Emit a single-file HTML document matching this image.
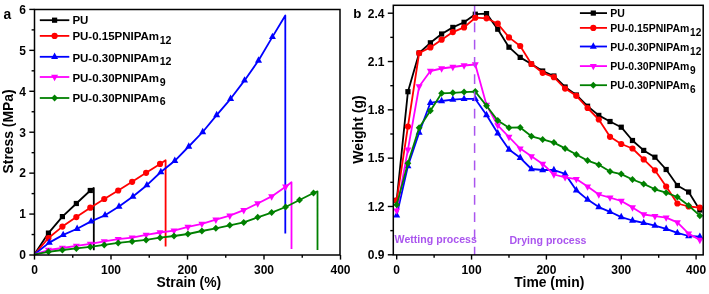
<!DOCTYPE html><html><head><meta charset="utf-8"><style>html,body{margin:0;padding:0;background:#fff;}svg{display:block;will-change:transform;}</style></head><body>
<svg width="709" height="294" viewBox="0 0 709 294" font-family='"Liberation Sans", sans-serif' font-weight="bold">
<rect width="709" height="294" fill="#fff"/>
<polyline points="34.50,254.30 48.45,233.10 62.40,216.60 76.35,203.50 90.30,190.50 93.80,188.00 93.80,250.30" fill="none" stroke="#000000" stroke-width="1.8" stroke-linejoin="round"/>
<rect x="45.85" y="230.50" width="5.20" height="5.20" fill="#000000"/>
<rect x="59.80" y="214.00" width="5.20" height="5.20" fill="#000000"/>
<rect x="73.75" y="200.90" width="5.20" height="5.20" fill="#000000"/>
<rect x="87.70" y="187.90" width="5.20" height="5.20" fill="#000000"/>
<polyline points="34.50,254.30 48.45,238.00 62.40,226.60 76.35,217.10 90.30,207.70 104.25,199.00 118.20,190.50 132.15,181.80 146.10,172.80 160.05,163.90 165.60,160.20 165.60,246.40" fill="none" stroke="#ff0000" stroke-width="1.8" stroke-linejoin="round"/>
<circle cx="48.45" cy="238.00" r="3.10" fill="#ff0000"/>
<circle cx="62.40" cy="226.60" r="3.10" fill="#ff0000"/>
<circle cx="76.35" cy="217.10" r="3.10" fill="#ff0000"/>
<circle cx="90.30" cy="207.70" r="3.10" fill="#ff0000"/>
<circle cx="104.25" cy="199.00" r="3.10" fill="#ff0000"/>
<circle cx="118.20" cy="190.50" r="3.10" fill="#ff0000"/>
<circle cx="132.15" cy="181.80" r="3.10" fill="#ff0000"/>
<circle cx="146.10" cy="172.80" r="3.10" fill="#ff0000"/>
<circle cx="160.05" cy="163.90" r="3.10" fill="#ff0000"/>
<polyline points="34.50,254.30 49.25,242.60 63.20,234.90 77.15,228.80 91.10,221.40 105.05,215.20 119.00,206.50 132.95,196.50 146.90,185.20 160.85,172.00 174.80,160.80 188.75,146.50 202.70,132.00 216.65,115.10 230.60,98.80 244.55,80.40 258.50,60.50 272.45,36.90 285.30,15.50 285.30,233.60" fill="none" stroke="#0000ff" stroke-width="1.8" stroke-linejoin="round"/>
<polygon points="49.25,238.33 52.75,244.73 45.75,244.73" fill="#0000ff"/>
<polygon points="63.20,230.63 66.70,237.03 59.70,237.03" fill="#0000ff"/>
<polygon points="77.15,224.53 80.65,230.93 73.65,230.93" fill="#0000ff"/>
<polygon points="91.10,217.13 94.60,223.53 87.60,223.53" fill="#0000ff"/>
<polygon points="105.05,210.93 108.55,217.33 101.55,217.33" fill="#0000ff"/>
<polygon points="119.00,202.23 122.50,208.63 115.50,208.63" fill="#0000ff"/>
<polygon points="132.95,192.23 136.45,198.63 129.45,198.63" fill="#0000ff"/>
<polygon points="146.90,180.93 150.40,187.33 143.40,187.33" fill="#0000ff"/>
<polygon points="160.85,167.73 164.35,174.13 157.35,174.13" fill="#0000ff"/>
<polygon points="174.80,156.53 178.30,162.93 171.30,162.93" fill="#0000ff"/>
<polygon points="188.75,142.23 192.25,148.63 185.25,148.63" fill="#0000ff"/>
<polygon points="202.70,127.73 206.20,134.13 199.20,134.13" fill="#0000ff"/>
<polygon points="216.65,110.83 220.15,117.23 213.15,117.23" fill="#0000ff"/>
<polygon points="230.60,94.53 234.10,100.93 227.10,100.93" fill="#0000ff"/>
<polygon points="244.55,76.13 248.05,82.53 241.05,82.53" fill="#0000ff"/>
<polygon points="258.50,56.23 262.00,62.63 255.00,62.63" fill="#0000ff"/>
<polygon points="272.45,32.63 275.95,39.03 268.95,39.03" fill="#0000ff"/>
<polyline points="34.50,254.30 48.45,250.00 62.40,248.00 76.35,245.80 90.30,243.80 104.25,241.40 118.20,239.10 132.15,237.60 146.10,234.80 160.05,232.50 174.00,230.60 187.95,226.90 201.90,223.80 215.85,219.70 229.80,215.70 243.75,210.20 257.70,203.50 271.65,196.40 285.60,186.70 291.50,182.30 291.50,249.00" fill="none" stroke="#ff00ff" stroke-width="1.8" stroke-linejoin="round"/>
<polygon points="48.45,254.27 51.95,247.87 44.95,247.87" fill="#ff00ff"/>
<polygon points="62.40,252.27 65.90,245.87 58.90,245.87" fill="#ff00ff"/>
<polygon points="76.35,250.07 79.85,243.67 72.85,243.67" fill="#ff00ff"/>
<polygon points="90.30,248.07 93.80,241.67 86.80,241.67" fill="#ff00ff"/>
<polygon points="104.25,245.67 107.75,239.27 100.75,239.27" fill="#ff00ff"/>
<polygon points="118.20,243.37 121.70,236.97 114.70,236.97" fill="#ff00ff"/>
<polygon points="132.15,241.87 135.65,235.47 128.65,235.47" fill="#ff00ff"/>
<polygon points="146.10,239.07 149.60,232.67 142.60,232.67" fill="#ff00ff"/>
<polygon points="160.05,236.77 163.55,230.37 156.55,230.37" fill="#ff00ff"/>
<polygon points="174.00,234.87 177.50,228.47 170.50,228.47" fill="#ff00ff"/>
<polygon points="187.95,231.17 191.45,224.77 184.45,224.77" fill="#ff00ff"/>
<polygon points="201.90,228.07 205.40,221.67 198.40,221.67" fill="#ff00ff"/>
<polygon points="215.85,223.97 219.35,217.57 212.35,217.57" fill="#ff00ff"/>
<polygon points="229.80,219.97 233.30,213.57 226.30,213.57" fill="#ff00ff"/>
<polygon points="243.75,214.47 247.25,208.07 240.25,208.07" fill="#ff00ff"/>
<polygon points="257.70,207.77 261.20,201.37 254.20,201.37" fill="#ff00ff"/>
<polygon points="271.65,200.67 275.15,194.27 268.15,194.27" fill="#ff00ff"/>
<polygon points="285.60,190.97 289.10,184.57 282.10,184.57" fill="#ff00ff"/>
<polyline points="34.50,254.30 48.45,251.80 62.40,250.00 76.35,248.40 90.30,246.90 104.25,244.90 118.20,242.90 132.15,241.40 146.10,239.90 160.05,237.70 174.00,236.00 187.95,234.00 201.90,231.00 215.85,228.30 229.80,225.30 243.75,222.40 257.70,217.30 271.65,212.60 285.60,207.00 299.55,200.00 313.50,193.00 317.50,191.40 317.50,250.00" fill="none" stroke="#008000" stroke-width="1.8" stroke-linejoin="round"/>
<polygon points="48.45,248.30 51.85,251.80 48.45,255.30 45.05,251.80" fill="#008000"/>
<polygon points="62.40,246.50 65.80,250.00 62.40,253.50 59.00,250.00" fill="#008000"/>
<polygon points="76.35,244.90 79.75,248.40 76.35,251.90 72.95,248.40" fill="#008000"/>
<polygon points="90.30,243.40 93.70,246.90 90.30,250.40 86.90,246.90" fill="#008000"/>
<polygon points="104.25,241.40 107.65,244.90 104.25,248.40 100.85,244.90" fill="#008000"/>
<polygon points="118.20,239.40 121.60,242.90 118.20,246.40 114.80,242.90" fill="#008000"/>
<polygon points="132.15,237.90 135.55,241.40 132.15,244.90 128.75,241.40" fill="#008000"/>
<polygon points="146.10,236.40 149.50,239.90 146.10,243.40 142.70,239.90" fill="#008000"/>
<polygon points="160.05,234.20 163.45,237.70 160.05,241.20 156.65,237.70" fill="#008000"/>
<polygon points="174.00,232.50 177.40,236.00 174.00,239.50 170.60,236.00" fill="#008000"/>
<polygon points="187.95,230.50 191.35,234.00 187.95,237.50 184.55,234.00" fill="#008000"/>
<polygon points="201.90,227.50 205.30,231.00 201.90,234.50 198.50,231.00" fill="#008000"/>
<polygon points="215.85,224.80 219.25,228.30 215.85,231.80 212.45,228.30" fill="#008000"/>
<polygon points="229.80,221.80 233.20,225.30 229.80,228.80 226.40,225.30" fill="#008000"/>
<polygon points="243.75,218.90 247.15,222.40 243.75,225.90 240.35,222.40" fill="#008000"/>
<polygon points="257.70,213.80 261.10,217.30 257.70,220.80 254.30,217.30" fill="#008000"/>
<polygon points="271.65,209.10 275.05,212.60 271.65,216.10 268.25,212.60" fill="#008000"/>
<polygon points="285.60,203.50 289.00,207.00 285.60,210.50 282.20,207.00" fill="#008000"/>
<polygon points="299.55,196.50 302.95,200.00 299.55,203.50 296.15,200.00" fill="#008000"/>
<polygon points="313.50,189.50 316.90,193.00 313.50,196.50 310.10,193.00" fill="#008000"/>
<rect x="34.5" y="9.5" width="305.5" height="245.5" fill="none" stroke="#000" stroke-width="1.5"/>
<line x1="29.3" y1="255.00" x2="34.5" y2="255.00" stroke="#000" stroke-width="1.4"/>
<text x="26.0" y="259.30" font-size="12" fill="#000" text-anchor="end" >0</text>
<line x1="29.3" y1="214.07" x2="34.5" y2="214.07" stroke="#000" stroke-width="1.4"/>
<text x="26.0" y="218.37" font-size="12" fill="#000" text-anchor="end" >1</text>
<line x1="29.3" y1="173.14" x2="34.5" y2="173.14" stroke="#000" stroke-width="1.4"/>
<text x="26.0" y="177.44" font-size="12" fill="#000" text-anchor="end" >2</text>
<line x1="29.3" y1="132.21" x2="34.5" y2="132.21" stroke="#000" stroke-width="1.4"/>
<text x="26.0" y="136.51" font-size="12" fill="#000" text-anchor="end" >3</text>
<line x1="29.3" y1="91.28" x2="34.5" y2="91.28" stroke="#000" stroke-width="1.4"/>
<text x="26.0" y="95.58" font-size="12" fill="#000" text-anchor="end" >4</text>
<line x1="29.3" y1="50.35" x2="34.5" y2="50.35" stroke="#000" stroke-width="1.4"/>
<text x="26.0" y="54.65" font-size="12" fill="#000" text-anchor="end" >5</text>
<line x1="29.3" y1="9.42" x2="34.5" y2="9.42" stroke="#000" stroke-width="1.4"/>
<text x="26.0" y="13.72" font-size="12" fill="#000" text-anchor="end" >6</text>
<line x1="31.6" y1="234.53" x2="34.5" y2="234.53" stroke="#000" stroke-width="1.4"/>
<line x1="31.6" y1="193.61" x2="34.5" y2="193.61" stroke="#000" stroke-width="1.4"/>
<line x1="31.6" y1="152.68" x2="34.5" y2="152.68" stroke="#000" stroke-width="1.4"/>
<line x1="31.6" y1="111.75" x2="34.5" y2="111.75" stroke="#000" stroke-width="1.4"/>
<line x1="31.6" y1="70.81" x2="34.5" y2="70.81" stroke="#000" stroke-width="1.4"/>
<line x1="31.6" y1="29.88" x2="34.5" y2="29.88" stroke="#000" stroke-width="1.4"/>
<line x1="34.50" y1="255.0" x2="34.50" y2="259.6" stroke="#000" stroke-width="1.4"/>
<text x="34.50" y="273.6" font-size="12" fill="#000" text-anchor="middle" >0</text>
<line x1="111.00" y1="255.0" x2="111.00" y2="259.6" stroke="#000" stroke-width="1.4"/>
<text x="111.00" y="273.6" font-size="12" fill="#000" text-anchor="middle" >100</text>
<line x1="187.50" y1="255.0" x2="187.50" y2="259.6" stroke="#000" stroke-width="1.4"/>
<text x="187.50" y="273.6" font-size="12" fill="#000" text-anchor="middle" >200</text>
<line x1="264.00" y1="255.0" x2="264.00" y2="259.6" stroke="#000" stroke-width="1.4"/>
<text x="264.00" y="273.6" font-size="12" fill="#000" text-anchor="middle" >300</text>
<line x1="340.50" y1="255.0" x2="340.50" y2="259.6" stroke="#000" stroke-width="1.4"/>
<text x="340.50" y="273.6" font-size="12" fill="#000" text-anchor="middle" >400</text>
<line x1="72.75" y1="255.0" x2="72.75" y2="257.8" stroke="#000" stroke-width="1.4"/>
<line x1="149.25" y1="255.0" x2="149.25" y2="257.8" stroke="#000" stroke-width="1.4"/>
<line x1="225.75" y1="255.0" x2="225.75" y2="257.8" stroke="#000" stroke-width="1.4"/>
<line x1="302.25" y1="255.0" x2="302.25" y2="257.8" stroke="#000" stroke-width="1.4"/>
<text x="188.8" y="286.6" font-size="13.9" fill="#000" text-anchor="middle" >Strain (%)</text>
<text transform="translate(12.9,131.4) rotate(-90)" font-size="13.9" text-anchor="middle">Stress (MPa)</text>
<text x="3.6" y="19.0" font-size="13.8" fill="#000" text-anchor="start" >a</text>
<line x1="39.8" y1="20.2" x2="69.3" y2="20.2" stroke="#000000" stroke-width="1.8"/>
<rect x="52.00" y="17.60" width="5.20" height="5.20" fill="#000000"/>
<text x="72.4" y="24.200000000000003" font-size="11.5">PU</text>
<line x1="39.8" y1="35.9" x2="69.3" y2="35.9" stroke="#ff0000" stroke-width="1.8"/>
<circle cx="54.60" cy="35.90" r="3.10" fill="#ff0000"/>
<text x="72.4" y="40.300000000000004" font-size="11.5">PU-0.15PNIPAm<tspan font-size="10.6" dx="0.6" dy="3.4">12</tspan></text>
<line x1="39.8" y1="56.8" x2="69.3" y2="56.8" stroke="#0000ff" stroke-width="1.8"/>
<polygon points="54.60,52.53 58.10,58.93 51.10,58.93" fill="#0000ff"/>
<text x="72.4" y="61.800000000000004" font-size="11.5">PU-0.30PNIPAm<tspan font-size="10.6" dx="0.6" dy="3.4">12</tspan></text>
<line x1="39.8" y1="77.0" x2="69.3" y2="77.0" stroke="#ff00ff" stroke-width="1.8"/>
<polygon points="54.60,81.27 58.10,74.87 51.10,74.87" fill="#ff00ff"/>
<text x="72.4" y="82.19999999999999" font-size="11.5">PU-0.30PNIPAm<tspan font-size="10.6" dx="0.6" dy="3.4">9</tspan></text>
<line x1="39.8" y1="98.0" x2="69.3" y2="98.0" stroke="#008000" stroke-width="1.8"/>
<polygon points="54.60,94.50 58.00,98.00 54.60,101.50 51.20,98.00" fill="#008000"/>
<text x="72.4" y="101.6" font-size="11.5">PU-0.30PNIPAm<tspan font-size="10.6" dx="0.6" dy="3.4">6</tspan></text>
<polyline points="396.70,200.40 407.93,91.70 419.15,53.00 430.38,42.80 441.61,34.00 452.84,27.40 464.06,22.30 475.29,14.20 486.52,13.60 497.75,29.20 508.98,47.20 520.20,57.40 531.43,64.00 542.66,71.00 553.88,76.00 565.11,87.00 576.34,95.00 587.57,106.20 598.80,115.40 610.02,121.50 621.25,127.20 632.48,140.50 643.71,150.40 654.93,157.20 666.16,169.50 677.39,185.50 688.62,192.00 699.84,210.00" fill="none" stroke="#000000" stroke-width="1.8" stroke-linejoin="round"/>
<rect x="394.10" y="197.80" width="5.20" height="5.20" fill="#000000"/>
<rect x="405.33" y="89.10" width="5.20" height="5.20" fill="#000000"/>
<rect x="416.55" y="50.40" width="5.20" height="5.20" fill="#000000"/>
<rect x="427.78" y="40.20" width="5.20" height="5.20" fill="#000000"/>
<rect x="439.01" y="31.40" width="5.20" height="5.20" fill="#000000"/>
<rect x="450.24" y="24.80" width="5.20" height="5.20" fill="#000000"/>
<rect x="461.46" y="19.70" width="5.20" height="5.20" fill="#000000"/>
<rect x="472.69" y="11.60" width="5.20" height="5.20" fill="#000000"/>
<rect x="483.92" y="11.00" width="5.20" height="5.20" fill="#000000"/>
<rect x="495.15" y="26.60" width="5.20" height="5.20" fill="#000000"/>
<rect x="506.38" y="44.60" width="5.20" height="5.20" fill="#000000"/>
<rect x="517.60" y="54.80" width="5.20" height="5.20" fill="#000000"/>
<rect x="528.83" y="61.40" width="5.20" height="5.20" fill="#000000"/>
<rect x="540.06" y="68.40" width="5.20" height="5.20" fill="#000000"/>
<rect x="551.28" y="73.40" width="5.20" height="5.20" fill="#000000"/>
<rect x="562.51" y="84.40" width="5.20" height="5.20" fill="#000000"/>
<rect x="573.74" y="92.40" width="5.20" height="5.20" fill="#000000"/>
<rect x="584.97" y="103.60" width="5.20" height="5.20" fill="#000000"/>
<rect x="596.20" y="112.80" width="5.20" height="5.20" fill="#000000"/>
<rect x="607.42" y="118.90" width="5.20" height="5.20" fill="#000000"/>
<rect x="618.65" y="124.60" width="5.20" height="5.20" fill="#000000"/>
<rect x="629.88" y="137.90" width="5.20" height="5.20" fill="#000000"/>
<rect x="641.11" y="147.80" width="5.20" height="5.20" fill="#000000"/>
<rect x="652.33" y="154.60" width="5.20" height="5.20" fill="#000000"/>
<rect x="663.56" y="166.90" width="5.20" height="5.20" fill="#000000"/>
<rect x="674.79" y="182.90" width="5.20" height="5.20" fill="#000000"/>
<rect x="686.01" y="189.40" width="5.20" height="5.20" fill="#000000"/>
<rect x="697.24" y="207.40" width="5.20" height="5.20" fill="#000000"/>
<polyline points="396.70,200.40 407.93,126.50 419.15,53.00 430.38,47.40 441.61,39.70 452.84,32.10 464.06,27.40 475.29,17.70 486.52,18.30 497.75,23.70 508.98,37.40 520.20,46.00 531.43,64.00 542.66,72.80 553.88,77.20 565.11,88.60 576.34,95.80 587.57,108.00 598.80,119.50 610.02,136.80 621.25,144.00 632.48,148.50 643.71,159.40 654.93,170.30 666.16,186.50 677.39,203.50 688.62,206.50 699.84,207.60" fill="none" stroke="#ff0000" stroke-width="1.8" stroke-linejoin="round"/>
<circle cx="396.70" cy="200.40" r="3.10" fill="#ff0000"/>
<circle cx="407.93" cy="126.50" r="3.10" fill="#ff0000"/>
<circle cx="419.15" cy="53.00" r="3.10" fill="#ff0000"/>
<circle cx="430.38" cy="47.40" r="3.10" fill="#ff0000"/>
<circle cx="441.61" cy="39.70" r="3.10" fill="#ff0000"/>
<circle cx="452.84" cy="32.10" r="3.10" fill="#ff0000"/>
<circle cx="464.06" cy="27.40" r="3.10" fill="#ff0000"/>
<circle cx="475.29" cy="17.70" r="3.10" fill="#ff0000"/>
<circle cx="486.52" cy="18.30" r="3.10" fill="#ff0000"/>
<circle cx="497.75" cy="23.70" r="3.10" fill="#ff0000"/>
<circle cx="508.98" cy="37.40" r="3.10" fill="#ff0000"/>
<circle cx="520.20" cy="46.00" r="3.10" fill="#ff0000"/>
<circle cx="531.43" cy="64.00" r="3.10" fill="#ff0000"/>
<circle cx="542.66" cy="72.80" r="3.10" fill="#ff0000"/>
<circle cx="553.88" cy="77.20" r="3.10" fill="#ff0000"/>
<circle cx="565.11" cy="88.60" r="3.10" fill="#ff0000"/>
<circle cx="576.34" cy="95.80" r="3.10" fill="#ff0000"/>
<circle cx="587.57" cy="108.00" r="3.10" fill="#ff0000"/>
<circle cx="598.80" cy="119.50" r="3.10" fill="#ff0000"/>
<circle cx="610.02" cy="136.80" r="3.10" fill="#ff0000"/>
<circle cx="621.25" cy="144.00" r="3.10" fill="#ff0000"/>
<circle cx="632.48" cy="148.50" r="3.10" fill="#ff0000"/>
<circle cx="643.71" cy="159.40" r="3.10" fill="#ff0000"/>
<circle cx="654.93" cy="170.30" r="3.10" fill="#ff0000"/>
<circle cx="666.16" cy="186.50" r="3.10" fill="#ff0000"/>
<circle cx="677.39" cy="203.50" r="3.10" fill="#ff0000"/>
<circle cx="688.62" cy="206.50" r="3.10" fill="#ff0000"/>
<circle cx="699.84" cy="207.60" r="3.10" fill="#ff0000"/>
<polyline points="396.70,215.40 407.93,166.00 419.15,132.60 430.38,102.80 441.61,101.00 452.84,99.60 464.06,98.90 475.29,98.90 486.52,115.00 497.75,133.30 508.98,149.60 520.20,157.80 531.43,169.00 542.66,170.00 553.88,170.00 565.11,173.90 576.34,190.30 587.57,199.60 598.80,207.10 610.02,211.80 621.25,217.10 632.48,220.50 643.71,222.90 654.93,225.70 666.16,228.80 677.39,232.90 688.62,236.00 699.84,236.70" fill="none" stroke="#0000ff" stroke-width="1.8" stroke-linejoin="round"/>
<polygon points="396.70,211.13 400.20,217.53 393.20,217.53" fill="#0000ff"/>
<polygon points="407.93,161.73 411.43,168.13 404.43,168.13" fill="#0000ff"/>
<polygon points="419.15,128.33 422.65,134.73 415.65,134.73" fill="#0000ff"/>
<polygon points="430.38,98.53 433.88,104.93 426.88,104.93" fill="#0000ff"/>
<polygon points="441.61,96.73 445.11,103.13 438.11,103.13" fill="#0000ff"/>
<polygon points="452.84,95.33 456.34,101.73 449.34,101.73" fill="#0000ff"/>
<polygon points="464.06,94.63 467.56,101.03 460.56,101.03" fill="#0000ff"/>
<polygon points="475.29,94.63 478.79,101.03 471.79,101.03" fill="#0000ff"/>
<polygon points="486.52,110.73 490.02,117.13 483.02,117.13" fill="#0000ff"/>
<polygon points="497.75,129.03 501.25,135.43 494.25,135.43" fill="#0000ff"/>
<polygon points="508.98,145.33 512.48,151.73 505.48,151.73" fill="#0000ff"/>
<polygon points="520.20,153.53 523.70,159.93 516.70,159.93" fill="#0000ff"/>
<polygon points="531.43,164.73 534.93,171.13 527.93,171.13" fill="#0000ff"/>
<polygon points="542.66,165.73 546.16,172.13 539.16,172.13" fill="#0000ff"/>
<polygon points="553.88,165.73 557.38,172.13 550.38,172.13" fill="#0000ff"/>
<polygon points="565.11,169.63 568.61,176.03 561.61,176.03" fill="#0000ff"/>
<polygon points="576.34,186.03 579.84,192.43 572.84,192.43" fill="#0000ff"/>
<polygon points="587.57,195.33 591.07,201.73 584.07,201.73" fill="#0000ff"/>
<polygon points="598.80,202.83 602.30,209.23 595.30,209.23" fill="#0000ff"/>
<polygon points="610.02,207.53 613.52,213.93 606.52,213.93" fill="#0000ff"/>
<polygon points="621.25,212.83 624.75,219.23 617.75,219.23" fill="#0000ff"/>
<polygon points="632.48,216.23 635.98,222.63 628.98,222.63" fill="#0000ff"/>
<polygon points="643.71,218.63 647.21,225.03 640.21,225.03" fill="#0000ff"/>
<polygon points="654.93,221.43 658.43,227.83 651.43,227.83" fill="#0000ff"/>
<polygon points="666.16,224.53 669.66,230.93 662.66,230.93" fill="#0000ff"/>
<polygon points="677.39,228.63 680.89,235.03 673.89,235.03" fill="#0000ff"/>
<polygon points="688.62,231.73 692.12,238.13 685.12,238.13" fill="#0000ff"/>
<polygon points="699.84,232.43 703.34,238.83 696.34,238.83" fill="#0000ff"/>
<polyline points="396.70,210.60 407.93,149.60 419.15,86.50 430.38,71.00 441.61,68.50 452.84,67.00 464.06,65.50 475.29,64.50 486.52,105.00 497.75,125.30 508.98,137.00 520.20,148.60 531.43,156.30 542.66,163.90 553.88,174.50 565.11,177.30 576.34,179.10 587.57,186.60 598.80,194.50 610.02,197.60 621.25,201.00 632.48,207.40 643.71,214.50 654.93,216.20 666.16,217.60 677.39,222.40 688.62,233.60 699.84,240.00" fill="none" stroke="#ff00ff" stroke-width="1.8" stroke-linejoin="round"/>
<polygon points="396.70,214.87 400.20,208.47 393.20,208.47" fill="#ff00ff"/>
<polygon points="407.93,153.87 411.43,147.47 404.43,147.47" fill="#ff00ff"/>
<polygon points="419.15,90.77 422.65,84.37 415.65,84.37" fill="#ff00ff"/>
<polygon points="430.38,75.27 433.88,68.87 426.88,68.87" fill="#ff00ff"/>
<polygon points="441.61,72.77 445.11,66.37 438.11,66.37" fill="#ff00ff"/>
<polygon points="452.84,71.27 456.34,64.87 449.34,64.87" fill="#ff00ff"/>
<polygon points="464.06,69.77 467.56,63.37 460.56,63.37" fill="#ff00ff"/>
<polygon points="475.29,68.77 478.79,62.37 471.79,62.37" fill="#ff00ff"/>
<polygon points="486.52,109.27 490.02,102.87 483.02,102.87" fill="#ff00ff"/>
<polygon points="497.75,129.57 501.25,123.17 494.25,123.17" fill="#ff00ff"/>
<polygon points="508.98,141.27 512.48,134.87 505.48,134.87" fill="#ff00ff"/>
<polygon points="520.20,152.87 523.70,146.47 516.70,146.47" fill="#ff00ff"/>
<polygon points="531.43,160.57 534.93,154.17 527.93,154.17" fill="#ff00ff"/>
<polygon points="542.66,168.17 546.16,161.77 539.16,161.77" fill="#ff00ff"/>
<polygon points="553.88,178.77 557.38,172.37 550.38,172.37" fill="#ff00ff"/>
<polygon points="565.11,181.57 568.61,175.17 561.61,175.17" fill="#ff00ff"/>
<polygon points="576.34,183.37 579.84,176.97 572.84,176.97" fill="#ff00ff"/>
<polygon points="587.57,190.87 591.07,184.47 584.07,184.47" fill="#ff00ff"/>
<polygon points="598.80,198.77 602.30,192.37 595.30,192.37" fill="#ff00ff"/>
<polygon points="610.02,201.87 613.52,195.47 606.52,195.47" fill="#ff00ff"/>
<polygon points="621.25,205.27 624.75,198.87 617.75,198.87" fill="#ff00ff"/>
<polygon points="632.48,211.67 635.98,205.27 628.98,205.27" fill="#ff00ff"/>
<polygon points="643.71,218.77 647.21,212.37 640.21,212.37" fill="#ff00ff"/>
<polygon points="654.93,220.47 658.43,214.07 651.43,214.07" fill="#ff00ff"/>
<polygon points="666.16,221.87 669.66,215.47 662.66,215.47" fill="#ff00ff"/>
<polygon points="677.39,226.67 680.89,220.27 673.89,220.27" fill="#ff00ff"/>
<polygon points="688.62,237.87 692.12,231.47 685.12,231.47" fill="#ff00ff"/>
<polygon points="699.84,244.27 703.34,237.87 696.34,237.87" fill="#ff00ff"/>
<polyline points="396.70,204.70 407.93,163.20 419.15,127.80 430.38,110.70 441.61,93.30 452.84,92.80 464.06,92.10 475.29,91.60 486.52,105.80 497.75,120.60 508.98,127.70 520.20,127.50 531.43,136.30 542.66,139.40 553.88,142.60 565.11,148.40 576.34,154.50 587.57,160.60 598.80,164.70 610.02,171.60 621.25,174.10 632.48,179.50 643.71,183.90 654.93,189.30 666.16,192.70 677.39,197.00 688.62,205.50 699.84,215.70" fill="none" stroke="#008000" stroke-width="1.8" stroke-linejoin="round"/>
<polygon points="396.70,201.20 400.10,204.70 396.70,208.20 393.30,204.70" fill="#008000"/>
<polygon points="407.93,159.70 411.33,163.20 407.93,166.70 404.53,163.20" fill="#008000"/>
<polygon points="419.15,124.30 422.55,127.80 419.15,131.30 415.75,127.80" fill="#008000"/>
<polygon points="430.38,107.20 433.78,110.70 430.38,114.20 426.98,110.70" fill="#008000"/>
<polygon points="441.61,89.80 445.01,93.30 441.61,96.80 438.21,93.30" fill="#008000"/>
<polygon points="452.84,89.30 456.24,92.80 452.84,96.30 449.44,92.80" fill="#008000"/>
<polygon points="464.06,88.60 467.46,92.10 464.06,95.60 460.67,92.10" fill="#008000"/>
<polygon points="475.29,88.10 478.69,91.60 475.29,95.10 471.89,91.60" fill="#008000"/>
<polygon points="486.52,102.30 489.92,105.80 486.52,109.30 483.12,105.80" fill="#008000"/>
<polygon points="497.75,117.10 501.15,120.60 497.75,124.10 494.35,120.60" fill="#008000"/>
<polygon points="508.98,124.20 512.38,127.70 508.98,131.20 505.58,127.70" fill="#008000"/>
<polygon points="520.20,124.00 523.60,127.50 520.20,131.00 516.80,127.50" fill="#008000"/>
<polygon points="531.43,132.80 534.83,136.30 531.43,139.80 528.03,136.30" fill="#008000"/>
<polygon points="542.66,135.90 546.06,139.40 542.66,142.90 539.26,139.40" fill="#008000"/>
<polygon points="553.88,139.10 557.28,142.60 553.88,146.10 550.49,142.60" fill="#008000"/>
<polygon points="565.11,144.90 568.51,148.40 565.11,151.90 561.71,148.40" fill="#008000"/>
<polygon points="576.34,151.00 579.74,154.50 576.34,158.00 572.94,154.50" fill="#008000"/>
<polygon points="587.57,157.10 590.97,160.60 587.57,164.10 584.17,160.60" fill="#008000"/>
<polygon points="598.80,161.20 602.20,164.70 598.80,168.20 595.40,164.70" fill="#008000"/>
<polygon points="610.02,168.10 613.42,171.60 610.02,175.10 606.62,171.60" fill="#008000"/>
<polygon points="621.25,170.60 624.65,174.10 621.25,177.60 617.85,174.10" fill="#008000"/>
<polygon points="632.48,176.00 635.88,179.50 632.48,183.00 629.08,179.50" fill="#008000"/>
<polygon points="643.71,180.40 647.11,183.90 643.71,187.40 640.31,183.90" fill="#008000"/>
<polygon points="654.93,185.80 658.33,189.30 654.93,192.80 651.53,189.30" fill="#008000"/>
<polygon points="666.16,189.20 669.56,192.70 666.16,196.20 662.76,192.70" fill="#008000"/>
<polygon points="677.39,193.50 680.79,197.00 677.39,200.50 673.99,197.00" fill="#008000"/>
<polygon points="688.62,202.00 692.01,205.50 688.62,209.00 685.22,205.50" fill="#008000"/>
<polygon points="699.84,212.20 703.24,215.70 699.84,219.20 696.44,215.70" fill="#008000"/>
<line x1="474.6" y1="5.3" x2="474.6" y2="254.9" stroke="#aa55ee" stroke-width="1.5" stroke-dasharray="9.6 7.65" stroke-dashoffset="0"/>
<text x="394.6" y="243.3" font-size="10.6" fill="#aa55ee" text-anchor="start" >Wetting process</text>
<text x="509.4" y="244.0" font-size="10.6" fill="#aa55ee" text-anchor="start" >Drying process</text>
<rect x="393.3" y="5.3" width="309.90000000000003" height="249.6" fill="none" stroke="#000" stroke-width="1.5"/>
<line x1="387.8" y1="254.80" x2="393.3" y2="254.80" stroke="#000" stroke-width="1.4"/>
<text x="384.4" y="259.10" font-size="12" fill="#000" text-anchor="end" >0.9</text>
<line x1="387.8" y1="206.48" x2="393.3" y2="206.48" stroke="#000" stroke-width="1.4"/>
<text x="384.4" y="210.78" font-size="12" fill="#000" text-anchor="end" >1.2</text>
<line x1="387.8" y1="158.16" x2="393.3" y2="158.16" stroke="#000" stroke-width="1.4"/>
<text x="384.4" y="162.46" font-size="12" fill="#000" text-anchor="end" >1.5</text>
<line x1="387.8" y1="109.84" x2="393.3" y2="109.84" stroke="#000" stroke-width="1.4"/>
<text x="384.4" y="114.14" font-size="12" fill="#000" text-anchor="end" >1.8</text>
<line x1="387.8" y1="61.52" x2="393.3" y2="61.52" stroke="#000" stroke-width="1.4"/>
<text x="384.4" y="65.82" font-size="12" fill="#000" text-anchor="end" >2.1</text>
<line x1="387.8" y1="13.20" x2="393.3" y2="13.20" stroke="#000" stroke-width="1.4"/>
<text x="384.4" y="17.50" font-size="12" fill="#000" text-anchor="end" >2.4</text>
<line x1="390.3" y1="230.64" x2="393.3" y2="230.64" stroke="#000" stroke-width="1.4"/>
<line x1="390.3" y1="182.32" x2="393.3" y2="182.32" stroke="#000" stroke-width="1.4"/>
<line x1="390.3" y1="134.00" x2="393.3" y2="134.00" stroke="#000" stroke-width="1.4"/>
<line x1="390.3" y1="85.68" x2="393.3" y2="85.68" stroke="#000" stroke-width="1.4"/>
<line x1="390.3" y1="37.36" x2="393.3" y2="37.36" stroke="#000" stroke-width="1.4"/>
<line x1="396.70" y1="254.9" x2="396.70" y2="259.6" stroke="#000" stroke-width="1.4"/>
<text x="396.70" y="273.5" font-size="12" fill="#000" text-anchor="middle" >0</text>
<line x1="471.55" y1="254.9" x2="471.55" y2="259.6" stroke="#000" stroke-width="1.4"/>
<text x="471.55" y="273.5" font-size="12" fill="#000" text-anchor="middle" >100</text>
<line x1="546.40" y1="254.9" x2="546.40" y2="259.6" stroke="#000" stroke-width="1.4"/>
<text x="546.40" y="273.5" font-size="12" fill="#000" text-anchor="middle" >200</text>
<line x1="621.25" y1="254.9" x2="621.25" y2="259.6" stroke="#000" stroke-width="1.4"/>
<text x="621.25" y="273.5" font-size="12" fill="#000" text-anchor="middle" >300</text>
<line x1="696.10" y1="254.9" x2="696.10" y2="259.6" stroke="#000" stroke-width="1.4"/>
<text x="696.10" y="273.5" font-size="12" fill="#000" text-anchor="middle" >400</text>
<line x1="434.12" y1="254.9" x2="434.12" y2="257.8" stroke="#000" stroke-width="1.4"/>
<line x1="508.98" y1="254.9" x2="508.98" y2="257.8" stroke="#000" stroke-width="1.4"/>
<line x1="583.83" y1="254.9" x2="583.83" y2="257.8" stroke="#000" stroke-width="1.4"/>
<line x1="658.67" y1="254.9" x2="658.67" y2="257.8" stroke="#000" stroke-width="1.4"/>
<text x="549.3" y="286.6" font-size="13.9" fill="#000" text-anchor="middle" >Time (min)</text>
<text transform="translate(362.6,129.5) rotate(-90)" font-size="14.1" text-anchor="middle">Weight (g)</text>
<text x="353.2" y="18.4" font-size="13.3" fill="#000" text-anchor="start" >b</text>
<line x1="579.9" y1="13.1" x2="607.0" y2="13.1" stroke="#000000" stroke-width="1.8"/>
<rect x="590.70" y="10.50" width="5.20" height="5.20" fill="#000000"/>
<text x="610.2" y="17.0" font-size="10.5">PU</text>
<line x1="579.9" y1="27.9" x2="607.0" y2="27.9" stroke="#ff0000" stroke-width="1.8"/>
<circle cx="593.30" cy="27.90" r="3.10" fill="#ff0000"/>
<text x="610.2" y="31.8" font-size="10.5">PU-0.15PNIPAm<tspan font-size="10.1" dx="0.7" dy="4.0">12</tspan></text>
<line x1="579.9" y1="46.5" x2="607.0" y2="46.5" stroke="#0000ff" stroke-width="1.8"/>
<polygon points="593.30,42.23 596.80,48.63 589.80,48.63" fill="#0000ff"/>
<text x="610.2" y="50.9" font-size="10.5">PU-0.30PNIPAm<tspan font-size="10.1" dx="0.7" dy="4.0">12</tspan></text>
<line x1="579.9" y1="66.1" x2="607.0" y2="66.1" stroke="#ff00ff" stroke-width="1.8"/>
<polygon points="593.30,70.37 596.80,63.97 589.80,63.97" fill="#ff00ff"/>
<text x="610.2" y="70.3" font-size="10.5">PU-0.30PNIPAm<tspan font-size="10.1" dx="0.7" dy="4.0">9</tspan></text>
<line x1="579.9" y1="85.2" x2="607.0" y2="85.2" stroke="#008000" stroke-width="1.8"/>
<polygon points="593.30,81.70 596.70,85.20 593.30,88.70 589.90,85.20" fill="#008000"/>
<text x="610.2" y="89.2" font-size="10.5">PU-0.30PNIPAm<tspan font-size="10.1" dx="0.7" dy="4.0">6</tspan></text>
</svg></body></html>
